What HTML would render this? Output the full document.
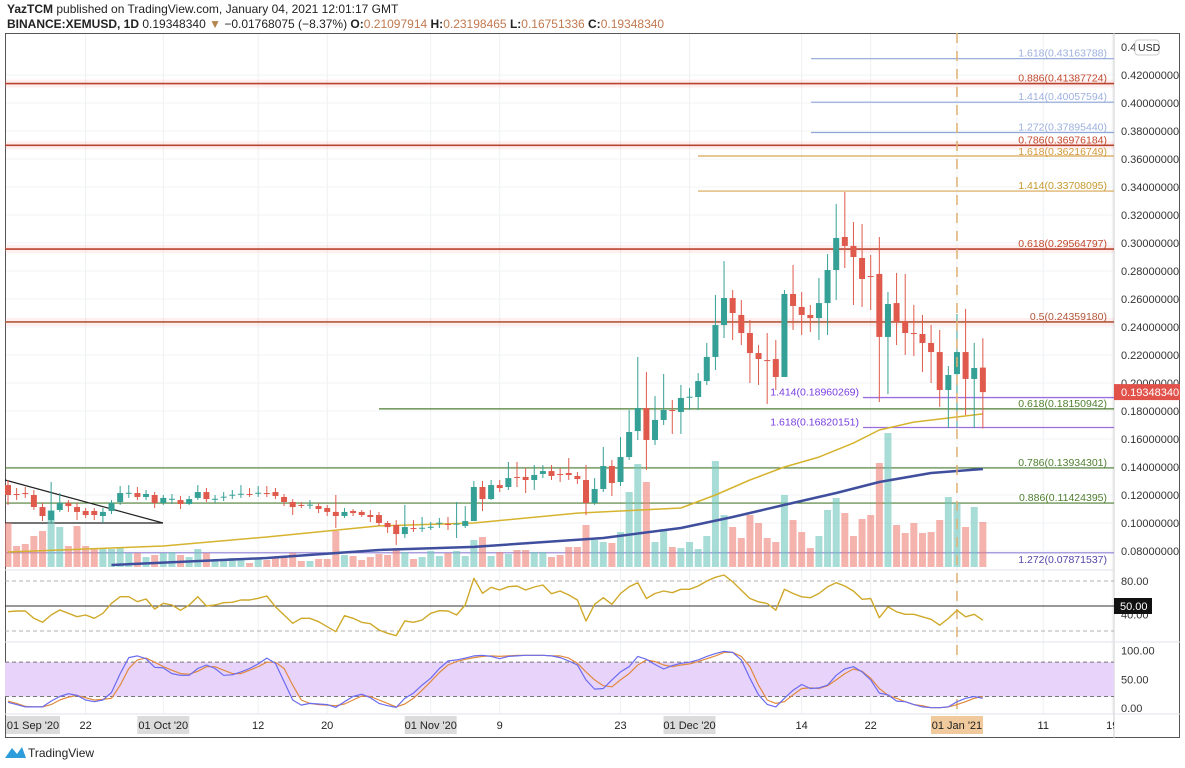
<!DOCTYPE html>
<html><head><meta charset="utf-8">
<style>
html,body{margin:0;padding:0;background:#fff;}
body{width:1185px;height:768px;overflow:hidden;font-family:"Liberation Sans",sans-serif;}
#hdr1{position:absolute;left:7px;top:2px;font-size:12px;color:#222;white-space:nowrap;}
#hdr2{position:absolute;left:7px;top:17px;font-size:12px;color:#222;white-space:nowrap;}
.o{color:#c0794f}
svg{position:absolute;left:0;top:0;}
</style></head>
<body>
<div id="hdr1"><b>YazTCM</b> published on TradingView.com, January 04, 2021 12:01:17 GMT</div>
<div id="hdr2"><b>BINANCE:XEMUSD, 1D</b> 0.19348340 <span style="color:#b5834c">▼</span> −0.01768075 (−8.37%) <b>O:</b><span class="o">0.21097914</span> <b>H:</b><span class="o">0.23198465</span> <b>L:</b><span class="o">0.16751336</span> <b>C:</b><span class="o">0.19348340</span></div>
<svg id="chart" width="1185" height="768"></svg>
<script>
const open=[.1271,.1207,.1214,.1200,.1114,.1021,.1093,.1143,.1114,.1086,
.1086,.1050,.1086,.1150,.1214,.1214,.1186,.1200,.1143,.1171,
.1164,.1136,.1179,.1221,.1171,.1186,.1200,.1207,.1207,.1214,
.1214,.1221,.1186,.1150,.1129,.1129,.1121,.1107,.1079,.1050,
.1086,.1079,.1057,.1057,.1000,.0986,.0921,.0964,.0964,.0971,
.1000,.0993,.0993,.0979,.1014,.1257,.1171,.1271,.1257,.1329,
.1329,.1307,.1350,.1371,.1350,.1357,.1336,.1307,.1143,.1243,
.1407,.1293,.1471,.1657,.1821,.1593,.1736,.1807,.1793,.1900,
.1900,.2014,.2186,.2414,.2607,.2486,.2357,.2214,.2164,.2171,
.2043,.2636,.2543,.2486,.2464,.2571,.2807,.3043,.2979,.2893,
.2764,.2779,.2329,.2571,.2443,.2357,.2350,.2286,.2221,.1950,
.2064,.2221,.2029,.2110];
const high=[.1307,.1250,.1257,.1236,.1143,.1293,.1214,.1164,.1143,.1107,
.1107,.1107,.1164,.1264,.1271,.1257,.1236,.1221,.1200,.1207,
.1193,.1193,.1271,.1250,.1200,.1221,.1236,.1271,.1250,.1264,
.1264,.1250,.1207,.1171,.1150,.1164,.1143,.1129,.1200,.1107,
.1100,.1093,.1093,.1079,.1014,.1021,.1129,.1021,.1043,.1007,
.1036,.1043,.1150,.1121,.1300,.1300,.1307,.1307,.1436,.1436,
.1393,.1414,.1414,.1414,.1393,.1464,.1364,.1414,.1321,.1543,
.1450,.1614,.1807,.2186,.2079,.1907,.2064,.1879,.1986,.1964,
.2071,.2286,.2629,.2871,.2664,.2593,.2450,.2271,.2357,.2307,
.2664,.2843,.2650,.2557,.2750,.2921,.3279,.3364,.3150,.3136,
.2914,.3043,.2650,.2786,.2779,.2557,.2486,.2414,.2379,.2121,
.2493,.2529,.2286,.2320];
const low=[.1129,.1164,.1179,.1093,.1014,.1000,.1079,.1079,.1021,.1036,
.1021,.1000,.1064,.1129,.1179,.1164,.1164,.1107,.1129,.1136,
.1100,.1129,.1164,.1150,.1143,.1157,.1171,.1179,.1186,.1186,
.1186,.1171,.1121,.1057,.1107,.1100,.1071,.1050,.0964,.1036,
.1050,.1043,.1007,.0979,.0929,.0843,.0893,.0936,.0936,.0950,
.0964,.0950,.0893,.0964,.1014,.1086,.1164,.1221,.1236,.1257,
.1214,.1236,.1321,.1307,.1293,.1307,.1279,.1057,.1129,.1221,
.1193,.1264,.1450,.1593,.1379,.1557,.1700,.1636,.1636,.1807,
.1807,.1986,.2093,.2321,.2307,.2271,.2000,.1986,.1850,.1950,
.2043,.2379,.2343,.2364,.2307,.2343,.2593,.2821,.2557,.2543,
.2521,.1864,.1921,.2271,.2200,.2193,.2079,.2000,.1829,.1679,
.1679,.1771,.1679,.1675];
const close=[.1200,.1205,.1212,.1114,.1050,.1086,.1143,.1121,.1079,.1057,
.1057,.1079,.1143,.1214,.1216,.1186,.1207,.1143,.1179,.1173,
.1136,.1171,.1221,.1171,.1173,.1188,.1202,.1209,.1205,.1216,
.1212,.1193,.1150,.1114,.1127,.1131,.1100,.1079,.1050,.1079,
.1071,.1057,.1043,.1000,.0971,.0921,.0971,.0962,.0966,.0973,
.1002,.0991,.0995,.1014,.1257,.1171,.1271,.1250,.1321,.1327,
.1307,.1343,.1371,.1336,.1348,.1343,.1314,.1143,.1243,.1407,
.1286,.1471,.1650,.1821,.1593,.1736,.1807,.1800,.1893,.1902,
.2014,.2186,.2414,.2607,.2500,.2357,.2214,.2171,.2162,.2043,
.2636,.2550,.2486,.2464,.2571,.2807,.3036,.2979,.2900,.2743,
.2757,.2329,.2564,.2436,.2357,.2352,.2286,.2221,.1950,.2057,
.2221,.2029,.2107,.1935];
const volume=[44,21,23,31,36,57,40,21,41,21,
19,18,18,20,14,14,10,12,14,15,
12,10,18,14,7,8,9,9,4,8,
7,9,10,14,6,6,8,8,36,12,
11,7,10,13,12,19,15,8,10,16,
11,14,16,11,27,30,11,15,13,17,
17,15,15,10,12,20,20,42,27,25,
24,35,75,103,85,25,38,20,19,25,
18,31,106,52,40,29,52,44,29,25,
72,47,35,19,31,57,69,54,31,48,
52,104,134,42,34,44,34,35,47,70,
64,40,60,45];
const rsi=[43.2,44,44,35.2,30.4,39.2,45.2,41.2,37.2,39.2,
35.2,41.2,53.2,61.2,61.2,55.2,58.4,46.4,53.2,51.2,
44.8,51.2,61.2,50,51.2,54,54.4,57.2,57.2,59.2,
62,49.2,39.2,29.2,35.2,35.2,31.2,25.2,19.2,38.4,
35.2,30.4,28.8,21.2,17.2,14.4,32,30.4,33.2,41.2,
44.4,44,39.2,51.2,83.2,65.2,72.4,69.2,73.2,74,
69.2,72.8,75.2,64.8,68,63.2,57.2,32,52,
60,52,65,73,78,59,65,68,66,70,
70,74,80,84.4,87.2,79,69,59,55,53,
45,70,65,61,60,65,73,78,74,68,
58,59,36,49,43,40,40,37,34,27,
35,45,37,40,33];
const stochK=[10,6,2,2,2,12,20,25,22,14,11,14,27,60,88,91,86,71,70,60,
57,57,69,75,69,57,58,63,69,77,87,78,46,14,5,8,7,6,1,11,
20,24,18,8,4,1,17,26,40,52,69,82,84,87,91,92,90,86,90,91,
92,92,92,91,88,82,75,49,33,
34,49,63,72,90,85,76,68,74,78,80,84,90,95,99,97,84,52,23,6.3,
2,17,31,41,34,35,40,57,68,72,63,49,26,23,12,11,6,2,0.5,0.5,
2,11,17,20,17];
const stochD=[12,8,3,2,2,6,14,19,22,18,14,15,17,40,69,84,87,80,72,66,
60,59,64,72,72,66,60,60,66,72,80,80,69,40,14,8,6,5,4,7,
14,21,20,14,8,2,7,17,31,46,62,75,81,85,88,90,91,90,91,92,
92,92,92,91,91,87,78,63,49,
39,37,49,60,75,84,81,75,72,75,77,81,86,91,97,97,90,72,40,14,
8,11,23,34,35,34,39,49,60,68,64,52,34,22,17,11,6,4,0.5,0.5,
2,6,11,17,20];
const maSlowIdx=[0,18,30,43,54,66,78,82,86,90,94,98,101,105,113];
const maSlow=[.0793,.0836,.0900,.0979,.1000,.1071,.1107,.1200,.1307,.1400,.1471,.1571,.1664,.1721,.1779];
const maLongIdx=[12,30,43,54,69,78,84,90,96,101,107,113];
const maLong=[.0700,.0750,.0807,.0829,.0893,.0964,.1043,.1129,.1214,.1293,.1357,.1386];
const priceTicks=[0.42,0.40,0.38,0.36,0.34,0.32,0.30,0.28,0.26,0.24,0.22,0.20,0.18,0.16,0.14,0.12,0.10,0.08];
const timeTickIdx=[9,18,29,37,49,57,71,79,92,100,110,120,128];
const timeTickLbl=["22","01 Oct '20","12","20","01 Nov '20","9","23","01 Dec '20","14","22","01 Jan '21","11","19"];
const fibLevels=[
 {t:"1.618",p:0.43163788,c:"#9db0df",x0:811,lc:"#8fa6d8"},
 {t:"0.886",p:0.41387724,c:"#c0492e",x0:5,lc:"#b8432f",red:1},
 {t:"1.414",p:0.40057594,c:"#9db0df",x0:811,lc:"#8fa6d8"},
 {t:"1.272",p:0.37895440,c:"#9db0df",x0:811,lc:"#8fa6d8"},
 {t:"0.786",p:0.36976184,c:"#c0492e",x0:5,lc:"#b8432f",red:1,dy:0},
 {t:"1.618",p:0.36216749,c:"#d49a3c",x0:698,lc:"#d8a550",dy:1},
 {t:"1.414",p:0.33708095,c:"#c89a2c",x0:698,lc:"#d8a550"},
 {t:"0.618",p:0.29564797,c:"#c0492e",x0:5,lc:"#b8432f",red:1},
 {t:"0.5",p:0.24359180,c:"#b0563a",x0:5,lc:"#b05a3c",red:1},
 {t:"0.618",p:0.18150942,c:"#4f7f2f",x0:379,lc:"#4e7d33"},
 {t:"0.786",p:0.13934301,c:"#4f7f2f",x0:5,lc:"#4e7d33"},
 {t:"0.886",p:0.11424395,c:"#4f7f2f",x0:5,lc:"#4e7d33"},
 {t:"1.272",p:0.07871537,c:"#5546a8",x0:5,lc:"#8f7fd6",below:1}
];
const extFib=[{t:"1.414",p:0.18960269},{t:"1.618",p:0.16820151}];

const NS="http://www.w3.org/2000/svg";
const svg=document.getElementById('chart');
function el(tag,attrs,parent){const e=document.createElementNS(NS,tag);for(const k in attrs)e.setAttribute(k,attrs[k]);(parent||svg).appendChild(e);return e;}
const X=i=>8+8.627*i;
const Y=p=>663-1400*p;
const RY=v=>606-(v-50)*0.833;
const SY=v=>708-v*0.573;
const VB=567;

const defs=el('defs',{});
const cp=el('clipPath',{id:'plot'},defs);el('rect',{x:5,y:33,width:1109,height:705},cp);

const grid=el('g',{'clip-path':'url(#plot)'});


timeTickIdx.forEach(i=>{el('line',{x1:X(i),x2:X(i),y1:33,y2:714,stroke:'#eef0f2','stroke-width':1},grid);});
priceTicks.forEach(p=>{el('line',{x1:5,x2:1114,y1:Y(p),y2:Y(p),stroke:'#f1f3f5','stroke-width':1},grid);});

el('rect',{x:5.5,y:33.5,width:1174,height:704,fill:'none',stroke:'#555','stroke-width':1});
el('line',{x1:1114,x2:1114,y1:33,y2:738,stroke:'#ccc'});
el('line',{x1:5,x2:1114,y1:570,y2:570,stroke:'#e0e3eb'});
el('line',{x1:5,x2:1180,y1:642,y2:642,stroke:'#e0e3eb'});
el('line',{x1:5,x2:1180,y1:714,y2:714,stroke:'#e0e3eb'});

const fg=el('g',{'clip-path':'url(#plot)'});
fibLevels.forEach(f=>{
  const y=Y(f.p);
  if(f.red){el('rect',{x:f.x0,y:y-4,width:1114-f.x0,height:8,fill:'rgba(255,150,150,0.15)'},fg);}
  const l=el('line',{x1:f.x0,x2:1114,y1:y,y2:y,stroke:f.lc,'stroke-width':f.red?1.6:1.2},fg);
  
  
  const t=el('text',{x:1107,y:f.below?y+10:y-2+(f.dy||0),'text-anchor':'end','font-size':10.5,fill:f.c},fg);
  t.textContent=f.t+'('+f.p.toFixed(8)+')';
  
  
});
extFib.forEach(f=>{
  const y=Y(f.p);
  const l=el('line',{x1:863,x2:1114,y1:y,y2:y,stroke:'#9b6ee0','stroke-width':1.3},fg);
  
  
  const t=el('text',{x:859,y:y-2,'text-anchor':'end','font-size':10.5,fill:'#7a3fe0'},fg);
  t.textContent=f.t+'('+f.p.toFixed(8)+')';
  
  
});
const tri=el('g',{});


el('line',{x1:5,y1:480,x2:163,y2:523,stroke:'#222','stroke-width':1.2},tri);
el('line',{x1:5,y1:523,x2:163,y2:523,stroke:'#222','stroke-width':1.2},tri);

const vg=el('g',{'clip-path':'url(#plot)'});
volume.forEach((v,i)=>{
  const up=close[i]>=open[i];
  const r=el('rect',{x:X(i)-3.5,y:VB-v,width:7,height:v,fill:up?'rgba(110,196,186,0.6)':'rgba(239,128,118,0.6)'},vg);
  
  
});
function poly(idx,vals,yf,stroke,w,name){
  const pts=idx.map((i,k)=>X(i).toFixed(1)+','+yf(vals[k]).toFixed(1)).join(' ');
  const p=el('polyline',{points:pts,fill:'none',stroke:stroke,'stroke-width':w,'stroke-linejoin':'round'});
  
  
  return p;
}
poly(maSlowIdx,maSlow,Y,'#d6b32e',1.5,'ma-100-line');
poly(maLongIdx,maLong,Y,'#3f4f9e',2.5,'ma-200-line');

const cg=el('g',{'clip-path':'url(#plot)'});
open.forEach((o,i)=>{
  const c=close[i],up=c>=o,col=up?'#35a095':'#df5a4c';
  const x=X(i);
  const w=el('line',{x1:x,x2:x,y1:Y(high[i]),y2:Y(low[i]),stroke:col,'stroke-width':1},cg);
  
  
  const top=Y(Math.max(o,c)),bot=Y(Math.min(o,c));
  const b=el('rect',{x:x-3,y:top,width:6,height:Math.max(1,bot-top),fill:col},cg);
  
  
});

const dm=el('line',{x1:X(110),x2:X(110),y1:33,y2:714,stroke:'#e0b070','stroke-width':1.5,'stroke-dasharray':'10,8'});



priceTicks.forEach(p=>{
  const t=el('text',{x:1121,y:Y(p)+4,'font-size':11,fill:'#333'});
  t.textContent=p.toFixed(8);
  
  
});
const t44=el('text',{x:1121,y:51,'font-size':11,fill:'#333'});t44.textContent='0.4';
const ub=el('rect',{x:1135,y:40,width:24,height:15,rx:3,fill:'#fff',stroke:'#ccc'});


const ut=el('text',{x:1138,y:51,'font-size':10.5,fill:'#222'});ut.textContent='USD';
const lp=close[close.length-1];
const cb=el('rect',{x:1114,y:Y(lp)-8,width:66,height:16,fill:'#e0524a'});


const ct=el('text',{x:1121,y:Y(lp)+4,'font-size':11,fill:'#fff'});
ct.textContent='0.19348340';

[80,20].forEach(v=>el('line',{x1:5,x2:1114,y1:RY(v),y2:RY(v),stroke:'#999','stroke-dasharray':'4,3','stroke-width':0.8}));
el('line',{x1:5,x2:1114,y1:RY(50),y2:RY(50),stroke:'#333','stroke-width':1});
poly(rsi.map((v,i)=>i),rsi,RY,'#cfa92a',1.4,'rsi-line');
[['80.00',80],['40.00',40]].forEach(a=>{const t=el('text',{x:1121,y:RY(a[1])+4,'font-size':11,fill:'#333'});t.textContent=a[0];});
el('rect',{x:1114,y:RY(50)-8,width:38,height:16,fill:'#111'});
const r50=el('text',{x:1120,y:RY(50)+4,'font-size':11,fill:'#fff'});r50.textContent='50.00';

const band=el('rect',{x:5,y:SY(80),width:1109,height:SY(20)-SY(80),fill:'#e8d3fb'});


[80,20].forEach(v=>el('line',{x1:5,x2:1114,y1:SY(v),y2:SY(v),stroke:'#777','stroke-dasharray':'4,3','stroke-width':1}));
poly(stochD.map((v,i)=>i),stochD,SY,'#e08a3e',1.2,'stoch-d-line');
poly(stochK.map((v,i)=>i),stochK,SY,'#6a6cf0',1.2,'stoch-k-line');
[['100.00',100],['50.00',50],['0.00',0]].forEach(a=>{const t=el('text',{x:1121,y:SY(a[1])+4,'font-size':11,fill:'#333'});t.textContent=a[0];});

const tg=el('g',{'clip-path':'url(#plot)'});
el('rect',{x:6,y:716,width:54,height:18,fill:'#dcdcdc'},tg);
const t0=el('text',{x:33,y:729,'text-anchor':'middle','font-size':11,fill:'#222'},tg);t0.textContent="01 Sep '20";
timeTickIdx.forEach((i,k)=>{
  const lbl=timeTickLbl[k];
  if(lbl.length>3){el('rect',{x:X(i)-26,y:716,width:52,height:18,fill:k==10?'#f0c99c':'#dcdcdc'},tg);}
  const t=el('text',{x:X(i),y:729,'text-anchor':'middle','font-size':11,fill:'#222'},tg);
  t.textContent=lbl;
  
  
});

const lg=el('g',{});


el('path',{d:'M5 758 L12 748 L17 754 L22 747 L26 758 Z',fill:'#2d9cdb'},lg);
const lt=el('text',{x:28,y:757,'font-size':12,fill:'#222'},lg);lt.textContent='TradingView';
</script>
</body></html>
